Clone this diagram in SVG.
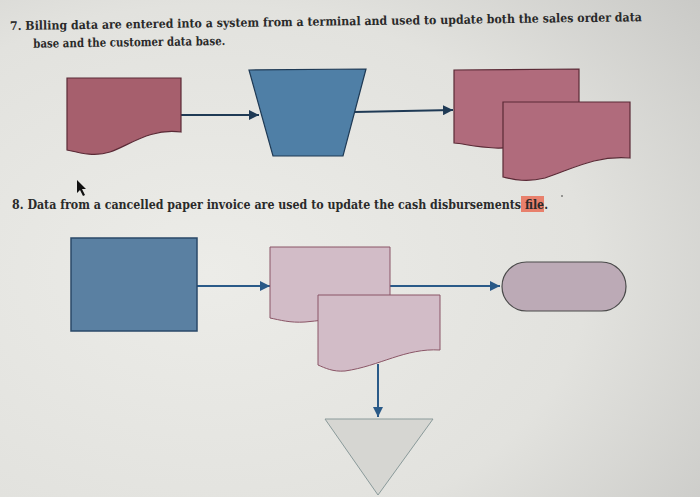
<svg xmlns="http://www.w3.org/2000/svg" width="700" height="497" viewBox="0 0 700 497">
<defs>
<radialGradient id="bg" cx="0.3" cy="0.55" r="0.9">
<stop offset="0" stop-color="#ecece8"/>
<stop offset="0.6" stop-color="#e2e2de"/>
<stop offset="1" stop-color="#c9c9c6"/>
</radialGradient>
<marker id="ahTop" viewBox="0 0 10 10" refX="10" refY="5" markerWidth="10" markerHeight="10" markerUnits="userSpaceOnUse" orient="auto">
<path d="M0,0 L10,5 L0,10 z" fill="#1f3a55"/>
</marker>
<marker id="ahBot" viewBox="0 0 10 10" refX="10" refY="5" markerWidth="10" markerHeight="10" markerUnits="userSpaceOnUse" orient="auto">
<path d="M0,0 L10,5 L0,10 z" fill="#2a5a88"/>
</marker>
<style>
.q{font-family:"DejaVu Serif","Liberation Serif",serif;font-weight:bold;font-size:12px;fill:#2a2a2a}
.docR{fill:#a65f6d;stroke:#5a2a36;stroke-width:1.2}
.docR2{fill:#b06b7c;stroke:#5a2a36;stroke-width:1.2}
.docP{fill:#d2bcc7;stroke:#8a5566;stroke-width:1}
.blue{fill:#4f7fa6;stroke:#1f3a55;stroke-width:1.2}
.blueR{fill:#5a80a2;stroke:#2a4868;stroke-width:1.5}
.term{fill:#bcaab6;stroke:#4a4a4a;stroke-width:1.2}
.tri{fill:#d6d6d2;stroke:#8a9a9a;stroke-width:1}
.cT{stroke:#1f3a55;stroke-width:2;fill:none;marker-end:url(#ahTop)}
.cB{stroke:#2a5a88;stroke-width:2;fill:none;marker-end:url(#ahBot)}
</style>
</defs>
<rect width="700" height="497" fill="url(#bg)"/>

<g id="question7" transform="rotate(-0.8 10 30)">
<text class="q" x="10" y="30" textLength="632" lengthAdjust="spacingAndGlyphs">7.  Billing data are entered into a system from a terminal and used to update both the sales order data</text>
<text class="q" x="33" y="48" textLength="192" lengthAdjust="spacingAndGlyphs">base and the customer data base.</text>
</g>

<g id="question8">
<rect x="521" y="196" width="23" height="16" fill="#e8806c"/>
<text class="q" x="12" y="209" textLength="536" lengthAdjust="spacingAndGlyphs">8.  Data from a cancelled paper invoice are used to update the cash disbursements file.</text>
<circle cx="562" cy="196" r="0.8" fill="#333"/>
</g>

<g id="cursor">
<path d="M77,180 L77,193 L80,190 L83,196 L85,195 L82,189 L86,189 z" fill="#111"/>
</g>

<g id="connectors">
<path class="cT" d="M180,115 L259,115"/>
<path class="cT" d="M354,112 L453,110"/>
<path class="cB" d="M197,286 L270,286"/>
<path class="cB" d="M390,286 L500,286"/>
<path class="cB" d="M378,364 L378,417"/>
</g>

<g id="doc1">
<path class="docR" d="M67,78 L181,78 L181,132 C150,128 130,145 110,152 C95,157 80,153 67,150 z"/>
</g>

<g id="terminal1">
<path class="blue" d="M249,70 L366,69 L343,156 L273,156 z"/>
</g>

<g id="multidoc1">
<path class="docR2" d="M454,70 L579,69 L579,140 C540,135 520,150 495,148 C475,147 465,144 454,143 z"/>
<path class="docR2" d="M503,102 L630,102 L630,158 C595,155 570,170 545,178 C525,183 512,179 503,177 z"/>
</g>

<g id="inputRect">
<rect class="blueR" x="71" y="238" width="126" height="93"/>
</g>

<g id="multidoc2">
<path class="docP" d="M270,247 L390,247 L390,318 C360,313 330,320 305,322 C290,323 280,320 270,318 z"/>
<path class="docP" d="M318,295 L440,295 L440,350 C405,348 380,366 345,371 C333,372 325,368 318,365 z"/>
</g>

<g id="terminator">
<rect class="term" x="502" y="262" width="124" height="49" rx="24.5" ry="24.5"/>
</g>

<g id="offPage">
<path class="tri" d="M325,419 L433,419 L378,495 z"/>
</g>
</svg>
